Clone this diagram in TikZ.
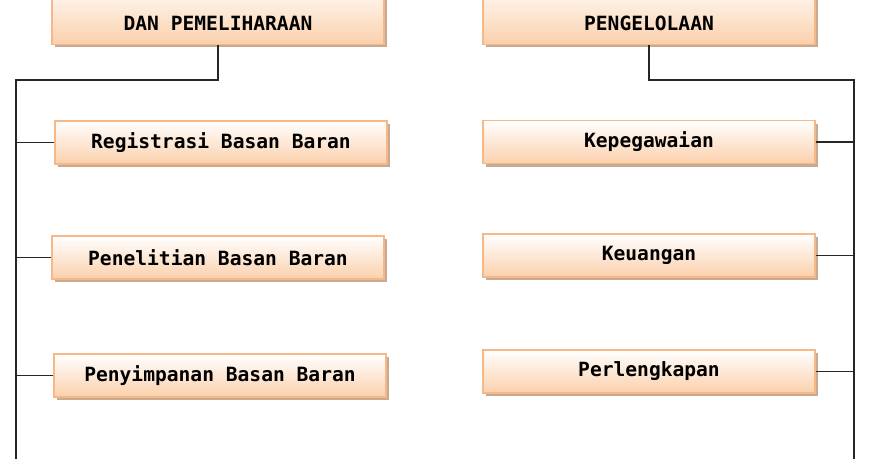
\documentclass[tikz,border=0pt]{standalone}
\usepackage{fontspec}
\newfontfamily\boxfont{DejaVu Sans Mono}
\usetikzlibrary{shadows}
\definecolor{peach}{HTML}{FBD0AC}
\definecolor{peachline}{HTML}{F7B888}
\definecolor{shadowtan}{HTML}{C8AA92}
\tikzset{bus/.style={draw=black!85, line width=1.6pt},
  unit/.style={draw=peachline, line width=1.2pt, top color=white, bottom color=peach,
    minimum width=332pt, minimum height=43pt, inner sep=0pt,
    font=\boxfont\bfseries\fontsize{19.6}{22}\selectfont,
    drop shadow={shadow xshift=2.5pt, shadow yshift=-3pt, fill=shadowtan, opacity=1}},
  head/.style={unit, minimum height=0pt, text height=51pt, text depth=14pt, anchor=south}}

\begin{document}
\begin{tikzpicture}[x=1pt, y=-1pt]
   \path[use as bounding box, clip] (0,0) rectangle (873,458);
   % left column
   \node[head] (dp)  at (218, 45.0) {DAN PEMELIHARAAN};
   \node[unit] (reg) at (221,142.5) {Registrasi Basan Baran};
   \node[unit] (pen) at (218,257.5) {Penelitian Basan Baran};
   \node[unit] (sim) at (220,375.5) {Penyimpanan Basan Baran};
   % right column
   \node[head] (pg)      at (649, 45.0) {PENGELOLAAN};
   \node[unit] (peg)     at (649,142.0) {Kepegawaian};
   \node[unit] (keu)     at (649,255.5) {Keuangan};
   \node[unit] (lengkap) at (649,371.5) {Perlengkapan};
   \coordinate (lbus) at ( 16, 80);
   \coordinate (lend) at ( 16,470);
   \coordinate (rbus) at (854, 80);
   \coordinate (rend) at (854,470);
   \draw[bus] (dp.south) |- (lbus) -- (lend);
   \draw[bus] (pg.south) |- (rbus) -- (rend);
   \foreach \n in {reg,pen,sim}
     \draw[bus] (\n.west) -- (\n.west -| lbus);
   \foreach \n in {peg,keu,lengkap}
     \draw[bus] (\n.east) -- (\n.east -| rbus);
\end{tikzpicture}
\end{document}
